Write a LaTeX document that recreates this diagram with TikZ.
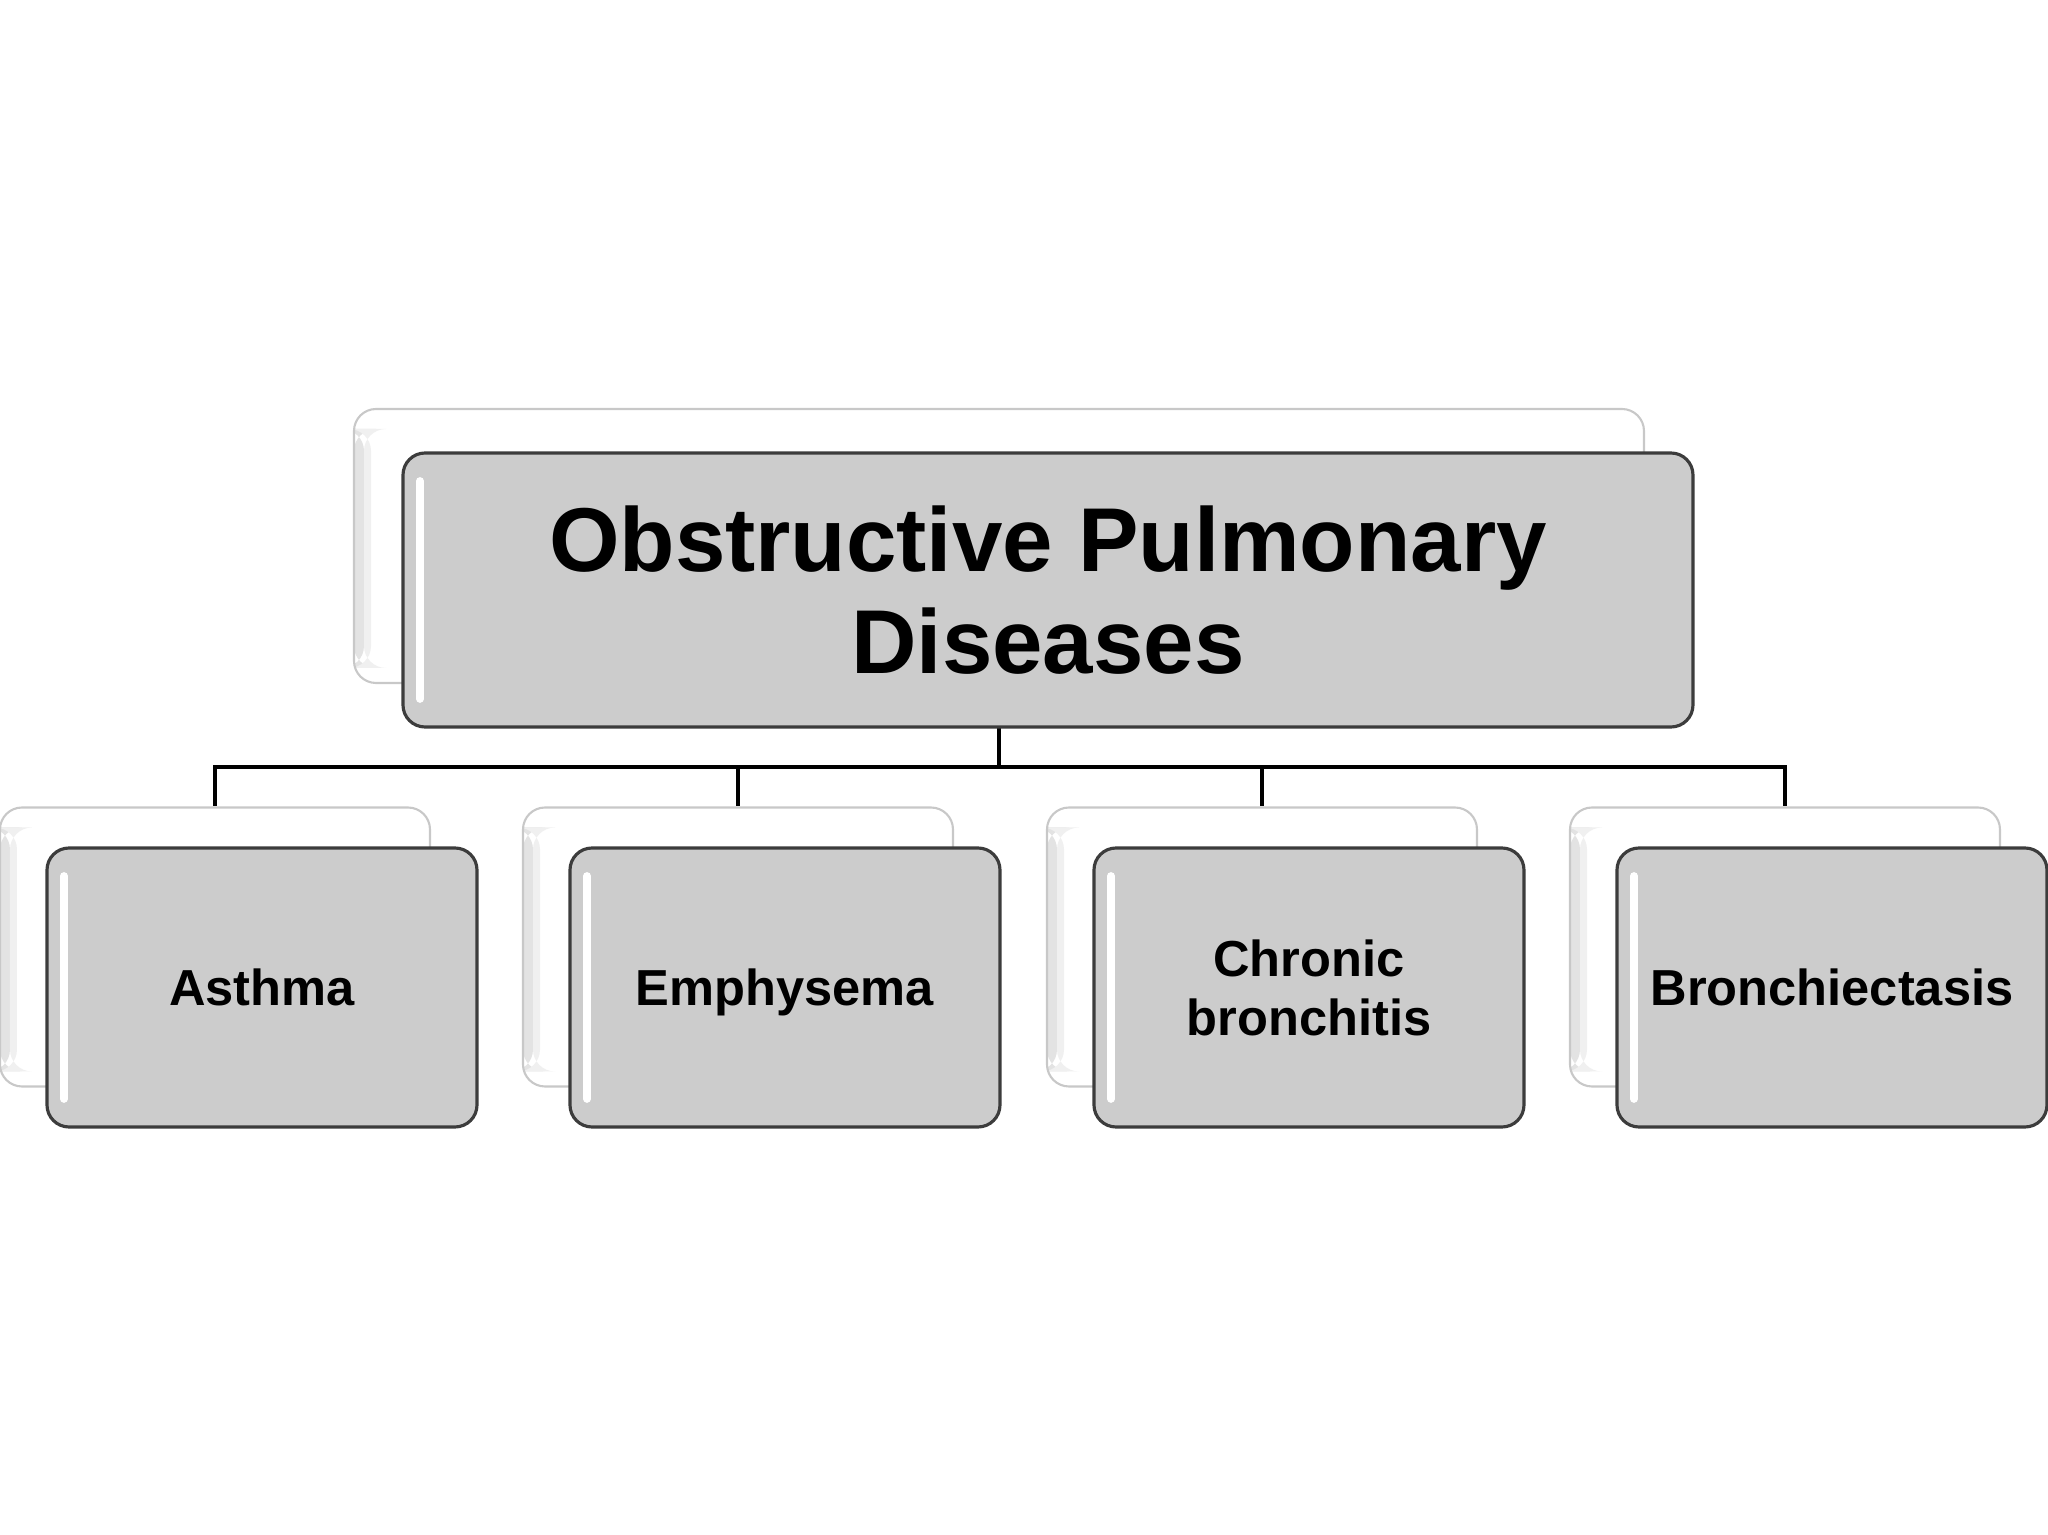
\documentclass[tikz,border=0pt]{standalone}
\usepackage{fontspec}
\setmainfont{Liberation Sans}
\usepackage{tikz}
\usepackage{xcolor}
\definecolor{boxgray}{HTML}{CCCCCC}
\definecolor{edgegray}{HTML}{3C3C3C}
\definecolor{backedge}{HTML}{C8C8C8}
\tikzset{%
  front/.style={draw=edgegray,line width=0.9pt,fill=boxgray,rounded corners=0.22cm,
    inner sep=0pt,align=center,font=\bfseries,
    path picture={\draw[white,line width=2.2pt,line cap=round]
      ([xshift=0.17cm,yshift=-0.28cm]path picture bounding box.north west) --
      ([xshift=0.17cm,yshift=0.28cm]path picture bounding box.south west);}},%
  back/.style={draw=backedge,line width=0.6pt,fill=white,rounded corners=0.22cm,inner sep=0pt,
    path picture={\fill[gray!22]
      ([yshift=-0.2cm]path picture bounding box.north west) rectangle
      ([xshift=0.1cm,yshift=0.15cm]path picture bounding box.south west);
      \fill[gray!12]
      ([xshift=0.1cm,yshift=-0.2cm]path picture bounding box.north west) rectangle
      ([xshift=0.17cm,yshift=0.15cm]path picture bounding box.south west);}},%
  link/.style={draw=black,line width=1.1pt},%
  big/.style={minimum width=12.9cm,minimum height=2.74cm,font=\fontsize{25.8}{29}\selectfont\bfseries},%
  small/.style={minimum width=4.3cm,minimum height=2.79cm,text depth=0pt,font=\fontsize{14.4}{16.8}\selectfont\bfseries}%
}
\begin{document}
\begin{tikzpicture}%
  \useasboundingbox (0,0) rectangle (20.48,15.35);%
  % back layer
  \node [back,big] (Mb) at (9.99,9.89) {};%
  \node [back,small] (Ab) at (2.15,5.88) {};%
  \node [back,small] (Eb) at (7.38,5.88) {};%
  \node [back,small] (Cb) at (12.62,5.88) {};%
  \node [back,small] (Bb) at (17.85,5.88) {};%
  % connectors
  \coordinate (bus) at (9.99,7.68);%
  \draw [link] (Mb.south) -- (bus);%
  \draw [link] (bus) -| (Ab.north);%
  \draw [link] (bus) -| (Eb.north);%
  \draw [link] (bus) -| (Cb.north);%
  \draw [link] (bus) -| (Bb.north);%
  % front layer
  \node [front,big] (M) at (10.48,9.45) {Obstructive Pulmonary\\Diseases};%
  \node [front,small] (A) at (2.62,5.475) {Asthma};%
  \node [front,small] (E) at (7.85,5.475) {Emphysema};%
  \node [front,small] (C) at (13.09,5.475) {Chronic\\bronchitis};%
  \node [front,small] (B) at (18.32,5.475) {Bronchiectasis};%
\end{tikzpicture}
\end{document}
